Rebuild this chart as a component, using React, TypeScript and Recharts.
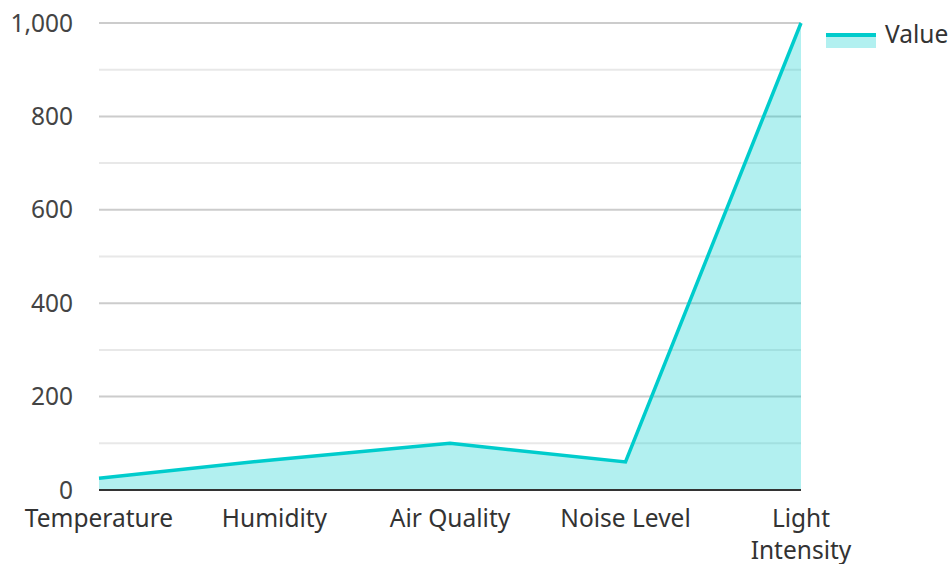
import React from "react";
import { AreaChart, Area, XAxis, YAxis, CartesianGrid, Legend } from "recharts";

const categories = ["Temperature", "Humidity", "Air Quality", "Noise Level", "Light Intensity"];
const values = [25, 65, 100, 60, 1000];
const majorTicks = [0, 200, 400, 600, 800, 1000];
const minorTicks = [100, 300, 500, 700, 900];
const seriesName = "Value";
const wrappedLabels: Record<string, string[]> = { "Light Intensity": ["Light", "Intensity"] };

const data = categories.map((c, i) => ({ name: c, value: values[i] }));

const FONT = "'Noto Sans', 'Open Sans', sans-serif";
const TEAL = "#00cccc";

const XTick = (props: any) => {
  const { x, y, payload } = props;
  const lines = wrappedLabels[payload.value] ?? [payload.value];
  return (
    <text x={x} y={y} textAnchor="middle" fill="#333" fontSize={24.5} fontFamily={FONT}>
      {lines.map((l: string, i: number) => (
        <tspan key={i} x={x} dy={i === 0 ? "0.71em" : 32}>
          {l}
        </tspan>
      ))}
    </text>
  );
};

const LegendContent = () => (
  <svg width={124} height={60} style={{ display: "block" }}>
    <rect x={0} y={37} width={50} height={11} fill={TEAL} fillOpacity={0.3} />
    <line x1={0} x2={50} y1={35} y2={35} stroke={TEAL} strokeWidth={4} />
    <text x={59} y={43} fill="#333" fontSize={24.5} fontFamily={FONT}>
      {seriesName}
    </text>
  </svg>
);

const applyScale = (scale: any, v: number): number | null => {
  if (!scale) return null;
  if (typeof scale === "function") return scale(v);
  if (typeof scale.map === "function") return scale.map(v);
  if (typeof scale.apply === "function") return scale.apply(v);
  if (typeof scale.scale === "function") return scale.scale(v);
  return null;
};

const minorGen = (props: any) => {
  try {
    const scale = props?.yAxis?.scale;
    const out: number[] = [];
    for (const v of minorTicks) {
      const c = applyScale(scale, v);
      if (typeof c === "number" && isFinite(c)) out.push(c);
    }
    return out;
  } catch (e) {
    return [];
  }
};

export default function App() {
  return (
    <div style={{ position: "absolute", left: 0, top: 0, width: 950, height: 564, background: "#fff" }}>
      <AreaChart width={950} height={564} data={data} margin={{ top: 23, right: 149, left: 0, bottom: 0 }}>
        <CartesianGrid vertical={false} stroke="#e8e8e8" strokeWidth={2} horizontalCoordinatesGenerator={minorGen} />
        <CartesianGrid vertical={false} stroke="#cccccc" strokeWidth={2} />
        <XAxis
          dataKey="name"
          height={74}
          tickLine={false}
          tickSize={0}
          tickMargin={20}
          axisLine={{ stroke: "#333", strokeWidth: 2 }}
          tick={<XTick />}
          interval={0}
        />
        <YAxis
          width={99}
          domain={[0, 1000]}
          ticks={majorTicks}
          type="number"
          axisLine={false}
          tickLine={false}
          tickSize={0}
          tickMargin={26}
          tick={{ fill: "#444", fontSize: 24.5, fontFamily: FONT }}
          tickFormatter={(v: number) => v.toLocaleString("en-US")}
        />
        <Legend
          verticalAlign="middle"
          align="center"
          layout="horizontal"
          wrapperStyle={{ top: 0, left: 826, width: 124, height: 60 }}
          content={<LegendContent />}
        />
        <Area
          type="linear"
          dataKey="value"
          name={seriesName}
          stroke={TEAL}
          strokeWidth={3.5}
          fill={TEAL}
          fillOpacity={0.3}
          dot={false}
          activeDot={false}
          isAnimationActive={false}
        />
      </AreaChart>
    </div>
  );
}
